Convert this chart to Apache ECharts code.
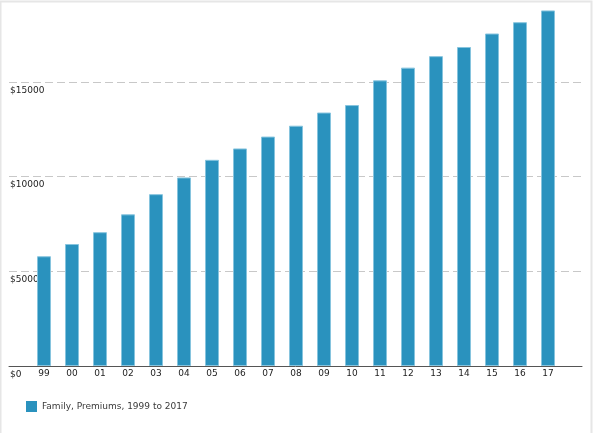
<!DOCTYPE html>
<html>
<head>
    <meta charset="utf-8">
    <script src="https://cdn.jsdelivr.net/npm/echarts@6/dist/echarts.min.js"></script>
    <style>
        html, body { margin: 0; padding: 0; background: #fff; }
        #main { width: 596px; height: 433px; }
    </style>
</head>
<body>
    <div id="main"></div>
    <script type="text/javascript">
        // premium per year, 1999 .. 2017
        var years = ['99', '00', '01', '02', '03', '04', '05', '06', '07', '08',
                     '09', '10', '11', '12', '13', '14', '15', '16', '17'];
        var premiums = [5791, 6438, 7061, 8003, 9068, 9950, 10880, 11480, 12106, 12680,
                        13375, 13770, 15073, 15745, 16351, 16834, 17545, 18142, 18764];
        var seriesName = 'Family, Premiums, 1999 to 2017';
        var yMax = 20000;
        var yStep = 5000;

        var font = 'DejaVu Sans';
        var myChart = echarts.init(document.getElementById('main'));

        var option = {
            animation: false,
            backgroundColor: '#fff',
            textStyle: { fontFamily: font },
            graphic: [{
                type: 'rect',
                shape: { x: 0.5, y: 1.5, width: 591, height: 440 },
                style: { fill: null, stroke: '#e6e6e6', lineWidth: 2 },
                silent: true,
                z: 100
            }],
            legend: {
                data: [seriesName],
                left: 26,
                top: 401,
                padding: 0,
                icon: 'rect',
                itemWidth: 11,
                itemHeight: 11,
                itemStyle: { borderWidth: 0 },
                textStyle: { fontFamily: font, fontSize: 9, color: '#3a3a3a' }
            },
            grid: [
                // full width grid: y gridlines + base line
                { left: 9, right: 14, top: -13, bottom: 67, outerBoundsMode: 'none', containLabel: false },
                // inner grid: bars and year labels
                { left: 30, right: 34, top: -13, bottom: 67, outerBoundsMode: 'none', containLabel: false }
            ],
            xAxis: [
                {
                    gridIndex: 0,
                    type: 'category',
                    data: years,
                    axisLine: { lineStyle: { color: '#555', width: 1 } },
                    axisTick: { show: false },
                    axisLabel: { show: false }
                },
                {
                    gridIndex: 1,
                    type: 'category',
                    data: years,
                    axisLine: { show: false },
                    axisTick: { show: false },
                    axisLabel: {
                        margin: 3,
                        fontFamily: font,
                        fontSize: 9,
                        color: '#222'
                    }
                }
            ],
            yAxis: [
                {
                    gridIndex: 0,
                    type: 'value',
                    min: 0,
                    max: yMax,
                    interval: yStep,
                    axisLine: { show: false },
                    axisTick: { show: false },
                    splitLine: {
                        lineStyle: { color: '#c8c8c8', type: [8, 4], width: 1 }
                    },
                    axisLabel: {
                        inside: true,
                        margin: 1,
                        align: 'left',
                        verticalAlign: 'top',
                        padding: [4, 0, 0, 0],
                        fontFamily: font,
                        fontSize: 9,
                        color: '#222',
                        formatter: function (v) { return '$' + v; }
                    }
                },
                {
                    gridIndex: 1,
                    type: 'value',
                    min: 0,
                    max: yMax,
                    show: false
                }
            ],
            series: [{
                name: seriesName,
                type: 'bar',
                xAxisIndex: 1,
                yAxisIndex: 1,
                data: premiums,
                barWidth: 14,
                itemStyle: {
                    color: '#2a92be',
                    borderColor: '#86c4de',
                    borderWidth: 1
                }
            }]
        };
        myChart.setOption(option);
    </script>
</body>
</html>
